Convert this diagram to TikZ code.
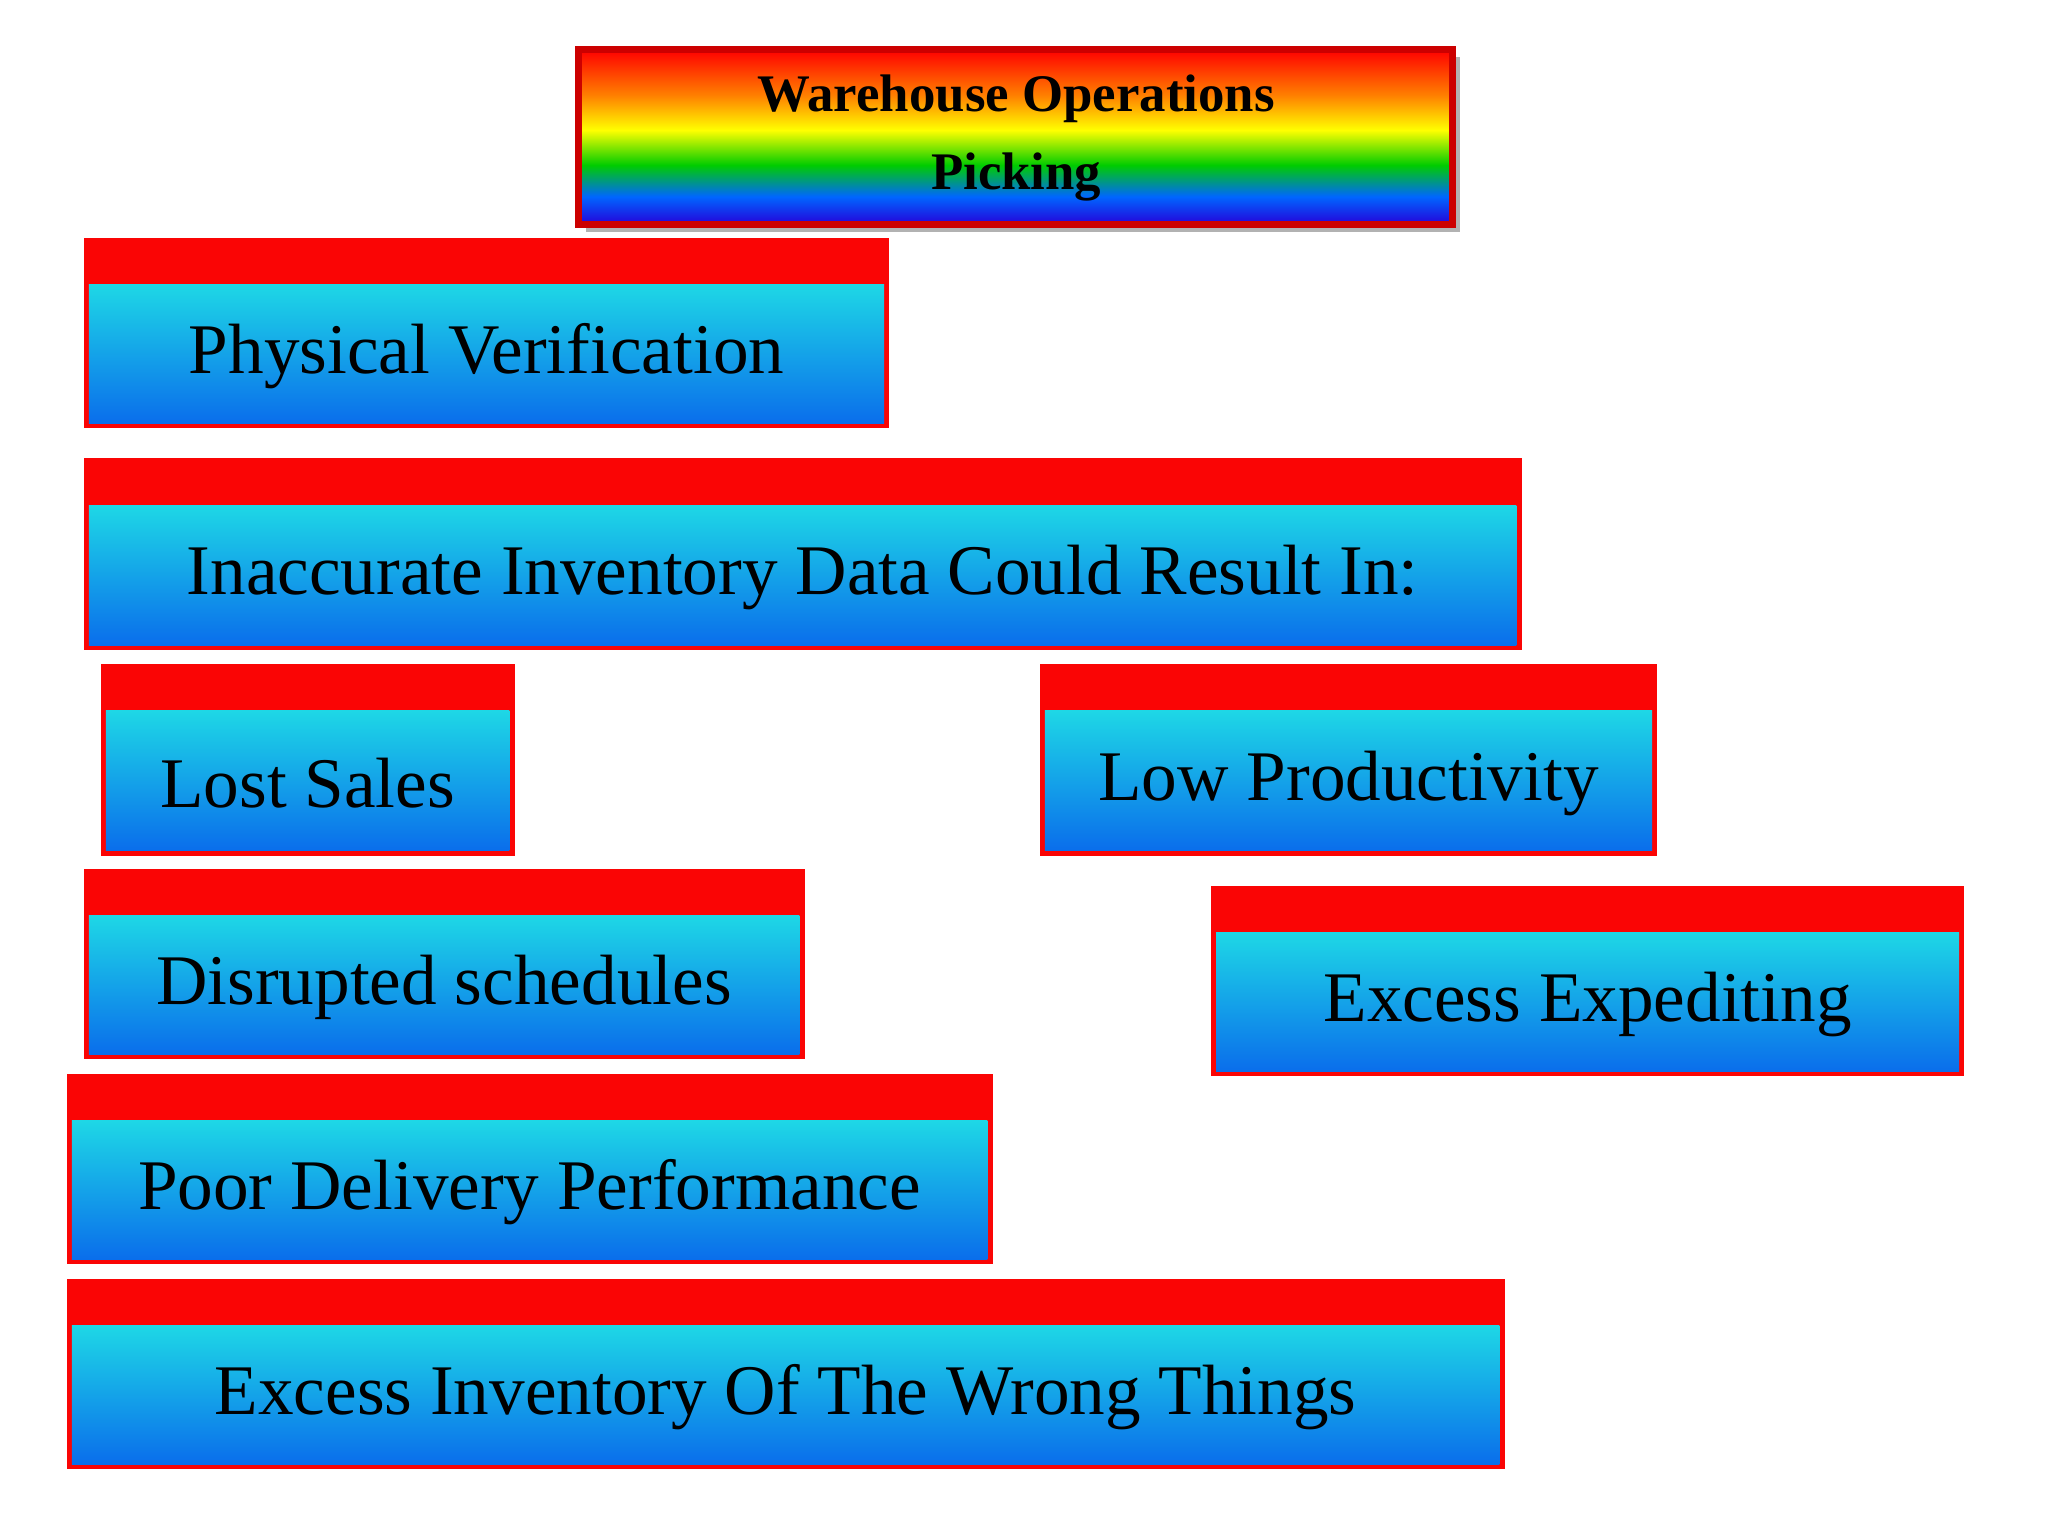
\documentclass[tikz,border=0pt]{standalone}
\usepackage{fontspec}
\setmainfont{Liberation Serif}
\definecolor{cy}{RGB}{30,215,230}
\definecolor{bl}{RGB}{10,110,235}
\definecolor{rd}{RGB}{250,5,5}
\pgfdeclareverticalshading{rainbow}{100bp}{color(0bp)=(blue!70!violet); color(25bp)=(blue!70!violet); color(33bp)=(blue!60!cyan); color(42bp)=(green!80!black); color(52bp)=(yellow); color(62bp)=(orange); color(75bp)=(red); color(100bp)=(red)}
\tikzset{lbl/.style={font=\fontsize{15.5}{18}\selectfont, inner sep=0pt}}
\newcommand\bx[6]{%
  \fill[rd] (#2,#3) rectangle (#4,#5);
  \shade[top color=cy,bottom color=bl] (#2+4,#3+36) rectangle (#4-4,#5-4);
  \node[lbl] (#1) at ({(#2+#4)/2},{(#3+36+#5)/2}) {#6};}
\begin{document}
\begin{tikzpicture}[x=0.01cm,y=-0.01cm]
\useasboundingbox[fill=white] (0,0) rectangle (1568,1176);
\fill[gray!60] (449,44) rectangle (1118,178);
\shade[shading=rainbow, draw=red!80!black, line width=1.5pt] (443,38) rectangle (1112,172);
\node[font=\bfseries\fontsize{11.5}{17}\selectfont, align=center] (title) at (778,106) {Warehouse Operations\\Picking};
\bx{pv}{64}{182}{681}{328}{Physical Verification}
\bx{ia}{64}{351}{1165}{498}{Inaccurate Inventory Data Could Result In:}
\bx{ls}{77}{508}{394}{655}{Lost Sales}
\bx{lp}{796}{508}{1269}{655}{Low Productivity}
\bx{ds}{64}{665}{616}{811}{Disrupted schedules}
\bx{ee}{927}{678}{1504}{824}{Excess Expediting}
\bx{pd}{51}{822}{760}{968}{Poor Delivery Performance}
\bx{ei}{51}{979}{1152}{1125}{Excess Inventory Of The Wrong Things}
\end{tikzpicture}
\end{document}
